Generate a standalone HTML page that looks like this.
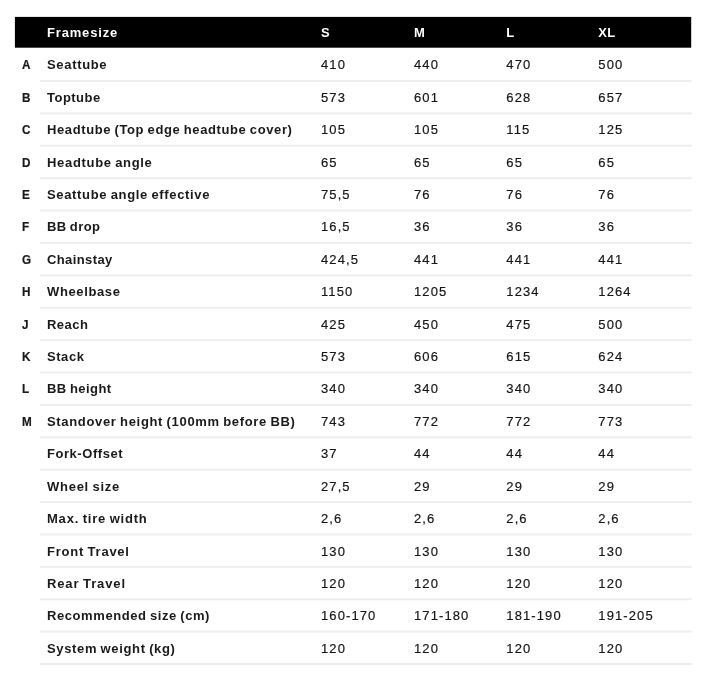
<!DOCTYPE html><html><head><meta charset="utf-8"><title>Geometry</title><style>
html,body{margin:0;padding:0;background:#fff;}
body{width:712px;height:688px;position:relative;overflow:hidden;font-family:"Liberation Sans",sans-serif;color:#1a1a1a;}
.bg{position:absolute;left:0;top:0;}
.r{position:absolute;left:0;width:712px;height:32.4px;}
.c{position:absolute;top:0.1px;line-height:32.4px;font-size:13px;white-space:nowrap;}
.k{left:21.5px;font-weight:700;letter-spacing:0;transform:scaleX(0.9);transform-origin:0 50%;-webkit-text-stroke:0.2px #1a1a1a;}
.l{left:47px;font-weight:700;letter-spacing:0.7px;word-spacing:-0.8px;}
.v{font-weight:400;letter-spacing:1.1px;color:#161616;-webkit-text-stroke:0.18px #161616;}
.v1{left:321px}.v2{left:414px}.v3{left:506.3px}.v4{left:598.3px}
.h .c{color:#fff;font-weight:700;line-height:30.5px;top:1px;}
</style></head><body>
<svg class="bg" width="712" height="688" viewBox="0 0 712 688"><rect x="14.9" y="16.9" width="676.3" height="30.8" fill="#000"/><rect x="40" y="80.00" width="651.6" height="2" fill="#eeeeee"/><rect x="40" y="112.39" width="651.6" height="2" fill="#eeeeee"/><rect x="40" y="144.78" width="651.6" height="2" fill="#eeeeee"/><rect x="40" y="177.17" width="651.6" height="2" fill="#eeeeee"/><rect x="40" y="209.56" width="651.6" height="2" fill="#eeeeee"/><rect x="40" y="241.95" width="651.6" height="2" fill="#eeeeee"/><rect x="40" y="274.34" width="651.6" height="2" fill="#eeeeee"/><rect x="40" y="306.73" width="651.6" height="2" fill="#eeeeee"/><rect x="40" y="339.12" width="651.6" height="2" fill="#eeeeee"/><rect x="40" y="371.51" width="651.6" height="2" fill="#eeeeee"/><rect x="40" y="403.90" width="651.6" height="2" fill="#eeeeee"/><rect x="40" y="436.29" width="651.6" height="2" fill="#eeeeee"/><rect x="40" y="468.68" width="651.6" height="2" fill="#eeeeee"/><rect x="40" y="501.07" width="651.6" height="2" fill="#eeeeee"/><rect x="40" y="533.46" width="651.6" height="2" fill="#eeeeee"/><rect x="40" y="565.85" width="651.6" height="2" fill="#eeeeee"/><rect x="40" y="598.24" width="651.6" height="2" fill="#eeeeee"/><rect x="40" y="630.63" width="651.6" height="2" fill="#eeeeee"/><rect x="40" y="663.02" width="651.6" height="2" fill="#eeeeee"/></svg>
<div class="r h" style="top:17px"><span class="c l" style="letter-spacing:0.83px">Framesize</span><span class="c l v1">S</span><span class="c l v2">M</span><span class="c l v3">L</span><span class="c l v4" style="letter-spacing:0.2px">XL</span></div>
<div class="r" style="top:48.60px"><span class="c k">A</span><span class="c l" style="letter-spacing:0.67px">Seattube</span><span class="c v v1">410</span><span class="c v v2">440</span><span class="c v v3">470</span><span class="c v v4">500</span></div>
<div class="r" style="top:81.60px"><span class="c k">B</span><span class="c l" style="letter-spacing:0.48px">Toptube</span><span class="c v v1">573</span><span class="c v v2">601</span><span class="c v v3">628</span><span class="c v v4">657</span></div>
<div class="r" style="top:113.60px"><span class="c k">C</span><span class="c l" style="letter-spacing:0.61px">Headtube (Top edge headtube cover)</span><span class="c v v1">105</span><span class="c v v2">105</span><span class="c v v3">115</span><span class="c v v4">125</span></div>
<div class="r" style="top:146.60px"><span class="c k">D</span><span class="c l" style="letter-spacing:0.68px">Headtube angle</span><span class="c v v1">65</span><span class="c v v2">65</span><span class="c v v3">65</span><span class="c v v4">65</span></div>
<div class="r" style="top:178.60px"><span class="c k">E</span><span class="c l" style="letter-spacing:0.66px">Seattube angle effective</span><span class="c v v1">75,5</span><span class="c v v2">76</span><span class="c v v3">76</span><span class="c v v4">76</span></div>
<div class="r" style="top:210.60px"><span class="c k">F</span><span class="c l" style="letter-spacing:0.41px">BB drop</span><span class="c v v1">16,5</span><span class="c v v2">36</span><span class="c v v3">36</span><span class="c v v4">36</span></div>
<div class="r" style="top:243.60px"><span class="c k">G</span><span class="c l" style="letter-spacing:0.39px">Chainstay</span><span class="c v v1">424,5</span><span class="c v v2">441</span><span class="c v v3">441</span><span class="c v v4">441</span></div>
<div class="r" style="top:275.60px"><span class="c k">H</span><span class="c l" style="letter-spacing:0.63px">Wheelbase</span><span class="c v v1">1150</span><span class="c v v2">1205</span><span class="c v v3">1234</span><span class="c v v4">1264</span></div>
<div class="r" style="top:308.60px"><span class="c k">J</span><span class="c l" style="letter-spacing:0.45px">Reach</span><span class="c v v1">425</span><span class="c v v2">450</span><span class="c v v3">475</span><span class="c v v4">500</span></div>
<div class="r" style="top:340.60px"><span class="c k">K</span><span class="c l" style="letter-spacing:0.55px">Stack</span><span class="c v v1">573</span><span class="c v v2">606</span><span class="c v v3">615</span><span class="c v v4">624</span></div>
<div class="r" style="top:372.60px"><span class="c k">L</span><span class="c l" style="letter-spacing:0.45px">BB height</span><span class="c v v1">340</span><span class="c v v2">340</span><span class="c v v3">340</span><span class="c v v4">340</span></div>
<div class="r" style="top:405.60px"><span class="c k">M</span><span class="c l" style="letter-spacing:0.67px">Standover height (100mm before BB)</span><span class="c v v1">743</span><span class="c v v2">772</span><span class="c v v3">772</span><span class="c v v4">773</span></div>
<div class="r" style="top:437.60px"><span class="c k"></span><span class="c l" style="letter-spacing:0.55px">Fork-Offset</span><span class="c v v1">37</span><span class="c v v2">44</span><span class="c v v3">44</span><span class="c v v4">44</span></div>
<div class="r" style="top:470.60px"><span class="c k"></span><span class="c l" style="letter-spacing:0.73px">Wheel size</span><span class="c v v1">27,5</span><span class="c v v2">29</span><span class="c v v3">29</span><span class="c v v4">29</span></div>
<div class="r" style="top:502.60px"><span class="c k"></span><span class="c l" style="letter-spacing:0.79px">Max. tire width</span><span class="c v v1">2,6</span><span class="c v v2">2,6</span><span class="c v v3">2,6</span><span class="c v v4">2,6</span></div>
<div class="r" style="top:535.60px"><span class="c k"></span><span class="c l" style="letter-spacing:0.76px">Front Travel</span><span class="c v v1">130</span><span class="c v v2">130</span><span class="c v v3">130</span><span class="c v v4">130</span></div>
<div class="r" style="top:567.60px"><span class="c k"></span><span class="c l" style="letter-spacing:0.87px">Rear Travel</span><span class="c v v1">120</span><span class="c v v2">120</span><span class="c v v3">120</span><span class="c v v4">120</span></div>
<div class="r" style="top:599.60px"><span class="c k"></span><span class="c l" style="letter-spacing:0.58px">Recommended size (cm)</span><span class="c v v1">160-170</span><span class="c v v2">171-180</span><span class="c v v3">181-190</span><span class="c v v4">191-205</span></div>
<div class="r" style="top:632.60px"><span class="c k"></span><span class="c l" style="letter-spacing:0.65px">System weight (kg)</span><span class="c v v1">120</span><span class="c v v2">120</span><span class="c v v3">120</span><span class="c v v4">120</span></div>
</body></html>
